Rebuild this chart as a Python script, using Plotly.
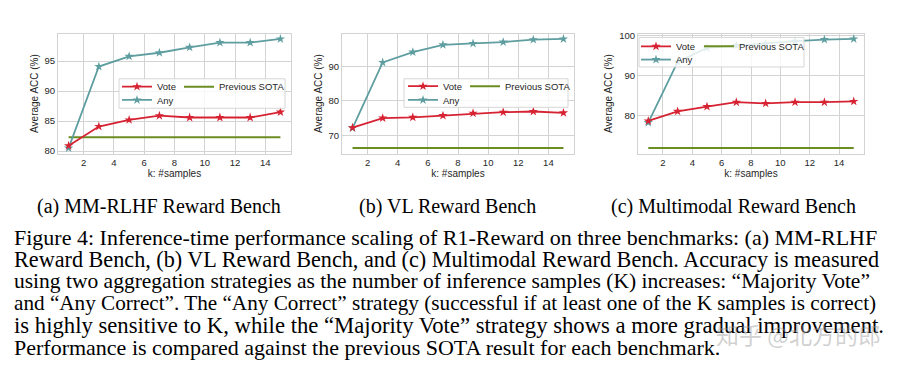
import plotly.graph_objects as go

# ---------------- data ----------------
k_samples = [1, 3, 5, 7, 9, 11, 13, 15]

a_vote = [80.9, 84.1, 85.2, 85.9, 85.6, 85.6, 85.6, 86.5]
a_any = [80.5, 94.1, 95.8, 96.4, 97.3, 98.1, 98.1, 98.7]
a_sota = 82.3

b_vote = [72.2, 75.0, 75.2, 75.7, 76.4, 76.7, 76.9, 76.5]
b_any = [72.1, 91.1, 94.1, 96.2, 96.6, 97.0, 97.7, 97.9]
b_sota = 66.3

c_vote = [78.7, 81.1, 82.3, 83.4, 83.1, 83.4, 83.4, 83.6]
c_any = [78.3, 93.5, 97.0, 97.6, 98.1, 98.7, 99.1, 99.25]
c_sota = 71.9

y_dticks = [5, 10, 10]
series_names = ["Vote", "Any", "Previous SOTA"]
sub_captions = ["(a) MM-RLHF Reward Bench", "(b) VL Reward Bench", "(c) Multimodal Reward Bench"]
paragraph = [
    "Figure 4: Inference-time performance scaling of R1-Reward on three benchmarks: (a) MM-RLHF",
    "Reward Bench, (b) VL Reward Bench, and (c) Multimodal Reward Bench. Accuracy is measured",
    "using two aggregation strategies as the number of inference samples (K) increases: \u201cMajority Vote\u201d",
    "and \u201cAny Correct\u201d. The \u201cAny Correct\u201d strategy (successful if at least one of the K samples is correct)",
    "is highly sensitive to K, while the \u201cMajority Vote\u201d strategy shows a more gradual improvement.",
    "Performance is compared against the previous SOTA result for each benchmark.",
]
watermark = "\u77e5\u4e4e @\u5317\u65b9\u7684\u90ce"

# ---------------- style / layout ----------------
W, H = 899, 375
C_VOTE = "#d62232"
C_ANY = "#5f9ea0"
C_SOTA = "#6b8e23"
SANS = "Liberation Sans, Arial, sans-serif"
SERIF = "Liberation Serif, Times New Roman, serif"
TXT = "#262626"
GRID = "#d3d3d3"

def px_x(p):
    return p / W

def px_y(p):
    return 1 - p / H

# axes boxes in pixels (left, right, top, bottom)
boxes = [(58, 291, 31, 153), (342, 574, 31, 153), (638, 864, 31, 153)]
# legend text positions (vote_x, vote_y, any_y, sota_x)
leg_pos = [(157, 85, 98.5, 219), (443, 84.5, 98.5, 505), (676, 44, 57.5, 739)]
# legend frames (x0, x1, y0, y1)
frames = [(119, 285, 77, 107), (404, 568, 77, 106), (639, 804, 35, 65)]
cap_x = [159, 447, 733]
para_sizes = [22, 22.2, 21.5, 21.2, 22.7, 22]

datasets = [(a_vote, a_any, a_sota), (b_vote, b_any, b_sota), (c_vote, c_any, c_sota)]

fig = go.Figure()
layout = dict(
    width=W, height=H, margin=dict(l=0, r=0, t=0, b=0),
    paper_bgcolor="white", plot_bgcolor="white", showlegend=True,
    font=dict(family=SANS, color=TXT),
)
shapes = []
annotations = []

for i, (vote, anyc, sota) in enumerate(datasets):
    n = "" if i == 0 else str(i + 1)
    xa, ya = "x" + n, "y" + n
    lg = [f"legend{'' if 3*i == 0 else 3*i + 1}", f"legend{3*i + 2}", f"legend{3*i + 3}"]
    sota_line = [sota] * len(k_samples)
    fig.add_trace(go.Scatter(x=k_samples, y=sota_line, mode="lines", name=series_names[2],
                             line=dict(color=C_SOTA, width=2), xaxis=xa, yaxis=ya, legend=lg[2]))
    fig.add_trace(go.Scatter(x=k_samples, y=anyc, mode="lines+markers", name=series_names[1],
                             line=dict(color=C_ANY, width=1.8),
                             marker=dict(symbol="star", size=7, color=C_ANY),
                             xaxis=xa, yaxis=ya, legend=lg[1]))
    fig.add_trace(go.Scatter(x=k_samples, y=vote, mode="lines+markers", name=series_names[0],
                             line=dict(color=C_VOTE, width=1.8),
                             marker=dict(symbol="star", size=7, color=C_VOTE),
                             xaxis=xa, yaxis=ya, legend=lg[0]))

    allv = vote + anyc + sota_line
    lo, hi = min(allv), max(allv)
    span = hi - lo
    yr = [lo - 0.05 * span, hi + 0.05 * span]
    xlo, xhi = min(k_samples), max(k_samples)
    xr = [xlo - 0.05 * (xhi - xlo), xhi + 0.05 * (xhi - xlo)]

    l, r, t, b = boxes[i]
    axis_common = dict(showline=True, mirror=True, linecolor=GRID, linewidth=1,
                       showgrid=True, gridcolor=GRID, gridwidth=1, zeroline=False,
                       ticks="", tickfont=dict(family=SANS, size=9.5, color=TXT))
    layout["xaxis" + n] = dict(axis_common, domain=[px_x(l), px_x(r)], range=xr,
                               anchor=ya, tick0=0, dtick=2,
                               title=dict(text="k: #samples", standoff=3,
                                          font=dict(family=SANS, size=10, color=TXT)))
    layout["yaxis" + n] = dict(axis_common, domain=[px_y(b), px_y(t)], range=yr,
                               anchor=xa, tick0=0, dtick=y_dticks[i],
                               title=dict(text="Average ACC (%)", standoff=4,
                                          font=dict(family=SANS, size=10, color=TXT)))

    vx, vy, ay, sx = leg_pos[i]
    for name, tx, ty in [(lg[0], vx, vy), (lg[1], vx, ay), (lg[2], sx, vy)]:
        layout[name] = dict(x=px_x(tx - 40), y=px_y(ty), xanchor="left", yanchor="middle",
                            xref="paper", yref="paper",
                            bgcolor="rgba(0,0,0,0)", borderwidth=0,
                            font=dict(family=SANS, size=9.5, color=TXT))
    fx0, fx1, fy0, fy1 = frames[i]
    shapes.append(dict(type="rect", xref="paper", yref="paper",
                       x0=px_x(fx0), x1=px_x(fx1), y0=px_y(fy1), y1=px_y(fy0),
                       fillcolor="rgba(255,255,255,0.82)",
                       line=dict(color="#d6d6d6", width=1), layer="above"))
    annotations.append(dict(text=sub_captions[i], x=px_x(cap_x[i]), y=px_y(206.5),
                            xref="paper", yref="paper", xanchor="center", yanchor="middle",
                            showarrow=False, font=dict(family=SERIF, size=20, color="black")))

line_baselines = [245, 267.3, 289.6, 312, 334.3, 356.7]
for txt, bl, fs in zip(paragraph, line_baselines, para_sizes):
    annotations.append(dict(text=txt, x=px_x(12), y=px_y(bl - 7), xref="paper", yref="paper",
                            xanchor="left", yanchor="middle", showarrow=False,
                            font=dict(family=SERIF, size=fs, color="black")))

annotations.append(dict(text=watermark, x=px_x(798), y=px_y(336), xref="paper", yref="paper",
                        xanchor="center", yanchor="middle", showarrow=False,
                        font=dict(family="Noto Sans CJK SC", size=23, color="rgba(150,150,150,0.45)")))

layout["shapes"] = shapes
layout["annotations"] = annotations
fig.update_layout(**layout)
fig.write_html("out.html", config={"displayModeBar": False},
               post_script="document.body.style.margin='0';")
